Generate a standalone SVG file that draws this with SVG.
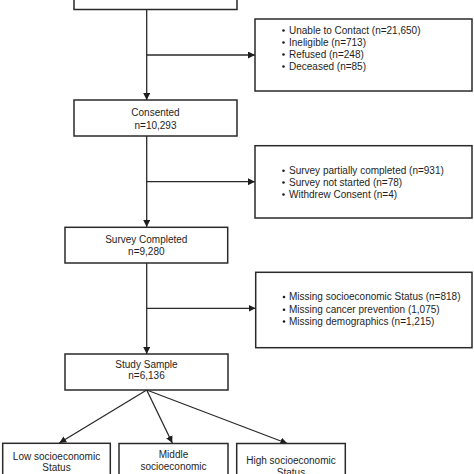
<svg xmlns="http://www.w3.org/2000/svg" width="474" height="474" viewBox="0 0 474 474">
<style>
.box{fill:#fff;stroke:#2a2a2a;stroke-width:1.5}
.t{font-family:"Liberation Sans",Arial,sans-serif;font-size:10px;fill:#1e1e1e}
.c{text-anchor:middle}
.ln{stroke:#2a2a2a;stroke-width:1.3;fill:none}
.b{fill:#1e1e1e}
</style>
<defs>
<marker id="ah" viewBox="0 0 10 10" refX="10" refY="5" markerWidth="7" markerHeight="7" markerUnits="userSpaceOnUse" orient="auto">
<path d="M0,0 L10,5 L0,10 Z" fill="#1e1e1e"/>
</marker>
</defs>
<rect width="474" height="474" fill="#fff"/>
<g id="connectors">
<line class="ln" x1="146.7" y1="9.5" x2="146.7" y2="100" marker-end="url(#ah)"/>
<line class="ln" x1="146.7" y1="55" x2="255" y2="55" marker-end="url(#ah)"/>
<line class="ln" x1="146.7" y1="136" x2="146.7" y2="227" marker-end="url(#ah)"/>
<line class="ln" x1="146.7" y1="181.7" x2="255" y2="181.7" marker-end="url(#ah)"/>
<line class="ln" x1="146.7" y1="263" x2="146.7" y2="354" marker-end="url(#ah)"/>
<line class="ln" x1="146.7" y1="308.3" x2="255.5" y2="308.3" marker-end="url(#ah)"/>
<line class="ln" x1="146.7" y1="390" x2="59.3" y2="443" marker-end="url(#ah)"/>
<line class="ln" x1="146.7" y1="390" x2="172.3" y2="443" marker-end="url(#ah)"/>
<line class="ln" x1="146.7" y1="390" x2="287.3" y2="443.5" marker-end="url(#ah)"/>
</g>
<g id="top">
<rect class="box" x="74" y="-40" width="163" height="49.5"/>
</g>
<g id="excl1">
<rect class="box" x="255" y="19" width="217" height="72"/>
<circle class="b" cx="283.5" cy="30.5" r="1.3"/><text class="t" x="289" y="33.5">Unable to Contact (n=21,650)</text>
<circle class="b" cx="283.5" cy="42.5" r="1.3"/><text class="t" x="289" y="45.5">Ineligible (n=713)</text>
<circle class="b" cx="283.5" cy="54.5" r="1.3"/><text class="t" x="289" y="57.5">Refused (n=248)</text>
<circle class="b" cx="283.5" cy="66.5" r="1.3"/><text class="t" x="289" y="69.5">Deceased (n=85)</text>
</g>
<g id="consented">
<rect class="box" x="74" y="100" width="163" height="36"/>
<text class="t c" x="155.5" y="116">Consented</text>
<text class="t c" x="155.5" y="128.5">n=10,293</text>
</g>
<g id="excl2">
<rect class="box" x="255" y="145.7" width="217" height="72.3"/>
<circle class="b" cx="283.5" cy="170.7" r="1.3"/><text class="t" x="289" y="174">Survey partially completed (n=931)</text>
<circle class="b" cx="283.5" cy="182.5" r="1.3"/><text class="t" x="289" y="185.8">Survey not started (n=78)</text>
<circle class="b" cx="283.5" cy="194.5" r="1.3"/><text class="t" x="289" y="198">Withdrew Consent (n=4)</text>
</g>
<g id="survey">
<rect class="box" x="65" y="227.3" width="162.7" height="35.7"/>
<text class="t c" x="146.3" y="242.5">Survey Completed</text>
<text class="t c" x="146.3" y="255">n=9,280</text>
</g>
<g id="excl3">
<rect class="box" x="255.7" y="272.3" width="216.3" height="75.4"/>
<circle class="b" cx="284" cy="297" r="1.3"/><text class="t" x="289" y="300">Missing socioeconomic Status (n=818)</text>
<circle class="b" cx="284" cy="309.7" r="1.3"/><text class="t" x="289" y="313">Missing cancer prevention (1,075)</text>
<circle class="b" cx="284" cy="321.5" r="1.3"/><text class="t" x="289" y="324.8">Missing demographics (n=1,215)</text>
</g>
<g id="sample">
<rect class="box" x="65" y="354" width="163" height="36"/>
<text class="t c" x="146.5" y="368">Study Sample</text>
<text class="t c" x="146.5" y="378.8">n=6,136</text>
</g>
<g id="low">
<rect class="box" x="2.7" y="443.3" width="107.6" height="40"/>
<text class="t c" x="56.5" y="459.5">Low socioeconomic</text>
<text class="t c" x="56.5" y="470.8">Status</text>
</g>
<g id="middle">
<rect class="box" x="119" y="443.5" width="109" height="40"/>
<text class="t c" x="173.5" y="458.2">Middle</text>
<text class="t c" x="173.5" y="469.5">socioeconomic</text>
</g>
<g id="high">
<rect class="box" x="236.7" y="443.5" width="108.6" height="40"/>
<text class="t c" x="291" y="464.2">High socioeconomic</text>
<text class="t c" x="291" y="475.5">Status</text>
</g>
</svg>
